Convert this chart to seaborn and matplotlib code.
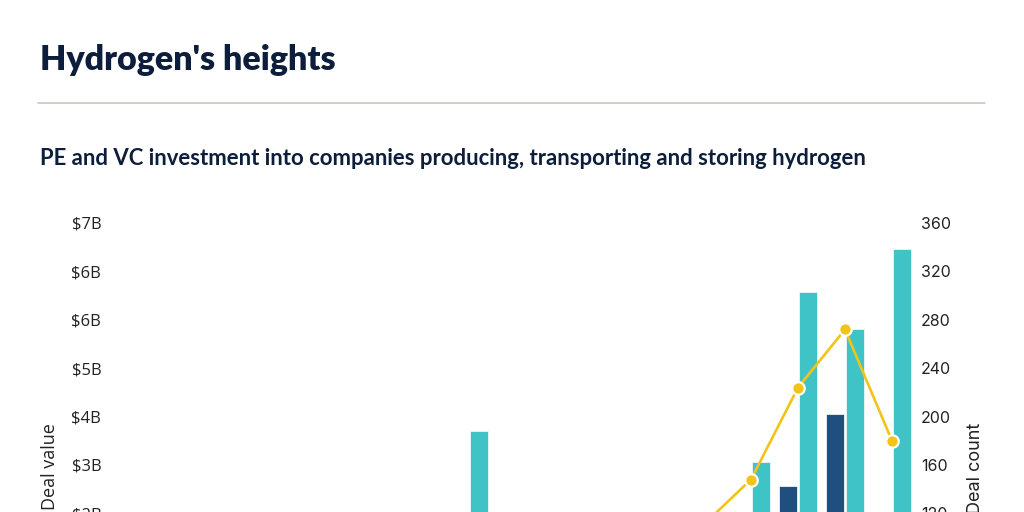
import numpy as np
import pandas as pd
import matplotlib
matplotlib.use('Agg')
import matplotlib.pyplot as plt
from matplotlib.ticker import FuncFormatter
import seaborn as sns

# ── Data (bars below the crop are estimates) ──
years = [str(y) for y in range(2006, 2023)]
pe_value = [0.05, 0.12, 0.10, 0.22, 0.15, 0.08, 0.30, 0.20, 0.25, 0.18,
            0.35, 0.40, 0.70, 1.20, 2.85, 4.05, 1.50]          # $B
vc_value = [0.20, 0.35, 0.40, 0.45, 0.30, 0.28, 0.55, 3.76, 0.65, 0.50,
            0.80, 0.95, 1.40, 3.25, 6.06, 5.45, 6.77]          # $B
deal_count = [30, 35, 40, 45, 42, 38, 45, 50, 55, 52, 60, 70, 111, 148,
              224, 272, 180]
value_ticks = np.arange(0, 7.21, 0.8)
count_ticks = np.arange(0, 361, 40)

NAVY_TXT = '#0C1E3C'
TEAL = '#40C3C7'
NAVY = '#1F4F7E'
YELLOW = '#F2C417'

sns.set_style('white')
plt.rcParams['font.family'] = ['Lato', 'DejaVu Sans']

df = pd.DataFrame({
    'year': years * 2,
    'value': pe_value + vc_value,
    'type': ['PE'] * len(years) + ['VC'] * len(years),
})

fig = plt.figure(figsize=(10.24, 5.12), dpi=100)

# header
fig.text(40/1024, 1 - 70/512, "Hydrogen's heights", fontsize=24.5, fontweight='heavy',
         color=NAVY_TXT, va='baseline', ha='left')
fig.add_artist(plt.Line2D([38/1024, 985/1024], [1 - 103/512] * 2, color='#CBC7BB', lw=1.2))
fig.text(40/1024, 1 - 165/512,
         'PE and VC investment into companies producing, transporting and storing hydrogen',
         fontsize=15.9, fontweight='bold', color=NAVY_TXT, va='baseline', ha='left')

# plot area runs past the bottom edge of the image
ax = fig.add_axes([116.5/1024, (512 - 658.6)/512, 799/1024, (658.6 - 223)/512])
sns.barplot(data=df, x='year', y='value', hue='type', hue_order=['PE', 'VC'],
            palette=[NAVY, TEAL], saturation=1, width=0.85, gap=0.1,
            edgecolor='#E8F6F7', linewidth=0.6, legend=False, ax=ax)
ax.set_ylim(0, 7.2)
ax.set_yticks(value_ticks)
ax.yaxis.set_major_formatter(FuncFormatter(lambda v, p: f'${v:.0f}B'))
ax.tick_params(axis='y', length=0, pad=11, labelsize=12, labelcolor='#222222')
ax.tick_params(axis='x', length=0, labelbottom=False)
for lab in ax.get_yticklabels():
    lab.set_family(['Open Sans', 'DejaVu Sans'])
ax.set_xlabel('')
ax.set_ylabel('')

ax2 = ax.twinx()
sns.pointplot(x=years, y=deal_count, color=YELLOW, markers='o', linestyles='-',
              markersize=9, markeredgecolor='white', markeredgewidth=1.6,
              linewidth=1.9, ax=ax2)
ax2.set_ylim(0, 360)
ax2.set_yticks(count_ticks)
ax2.tick_params(axis='y', length=0, pad=4, labelsize=11.5, labelcolor='#222222')
ax2.tick_params(axis='x', length=0, labelbottom=False)
for lab in ax2.get_yticklabels():
    lab.set_family(['Inter', 'DejaVu Sans'])
ax2.set_ylabel('')

for a in (ax, ax2):
    sns.despine(ax=a, left=True, right=True, top=True, bottom=True)
    a.grid(False)

fig.text(50/1024, 1 - 423/512, 'Deal value', rotation=90, fontsize=13,
         color='#222222', va='top', ha='center', family=['Open Sans', 'DejaVu Sans'])
fig.text(976/1024, 1 - 423/512, 'Deal count', rotation=90, fontsize=13,
         color='#222222', va='top', ha='center', family=['Inter', 'DejaVu Sans'])

fig.savefig('out.png', dpi=100)
